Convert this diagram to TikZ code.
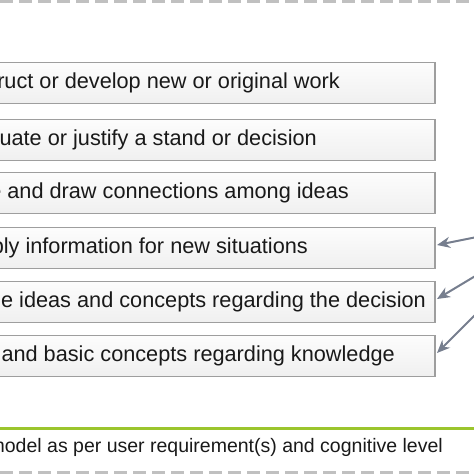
\documentclass[tikz,border=0pt]{standalone}
\usepackage{fontspec}
\setmainfont{Liberation Sans}
\usepackage{xcolor}
\usetikzlibrary{positioning,arrows.meta}
\definecolor{bxgrey}{RGB}{158,158,158}
\definecolor{dashgrey}{RGB}{192,192,192}
\definecolor{lvlgreen}{RGB}{155,197,45}
\definecolor{arrgrey}{RGB}{118,126,142}
\definecolor{txtblack}{RGB}{25,25,25}
\tikzset{
  lvl/.style={draw=bxgrey, line width=1.3pt, top color=black!1, bottom color=black!6,
              minimum width=460pt, minimum height=41pt, inner sep=0pt, outer sep=0pt},
  lvltxt/.style={font=\fontsize{21.7}{25}\selectfont, text=txtblack, inner sep=0pt, anchor=east},
  notetxt/.style={lvltxt, font=\fontsize{19.5}{23}\selectfont},
  sepline/.style={dashgrey, line width=3pt, dash pattern=on 13pt off 6pt},
  pick/.style={-{Stealth[length=13pt,width=11pt]}, line width=2pt, color=arrgrey},
}
\begin{document}
\begin{tikzpicture}[x=1pt, y=-1pt]
\useasboundingbox (0,0) rectangle (474,474);
\clip (0,0) rectangle (474,474);
% level boxes
\node[lvl] (b1) at (205,83) {};
\node[lvl, below=16pt of b1] (b2) {};
\node[lvl, below=12pt of b2] (b3) {};
\node[lvl, below=14pt of b3] (b4) {};
\node[lvl, below=13pt of b4] (b5) {};
\node[lvl, below=13pt of b5] (b6) {};
\node[lvltxt] (t1) at ([xshift=-95pt]b1.east) {ruct or develop new or original work};
\node[lvltxt] (t2) at ([xshift=-118pt]b2.east) {uate or justify a stand or decision};
\node[lvltxt] (t3) at ([xshift=-86pt]b3.east) {e and draw connections among ideas};
\node[lvltxt] (t4) at ([xshift=-127pt]b4.east) {ply information for new situations};
\node[lvltxt] (t5) at ([xshift=-9pt]b5.east) {e ideas and concepts regarding the decision};
\node[lvltxt] (t6) at ([xshift=-40pt]b6.east) {and basic concepts regarding knowledge};
% arrows coming in from the right
\coordinate (s1) at (482,236);
\coordinate (s2) at (482,272);
\coordinate (s3) at (482,308);
\draw[pick] (s1) -- ([shift={(2,-3)}]b4.east);
\draw[pick] (s2) -- ([shift={(2,-3)}]b5.east);
\draw[pick] (s3) -- ([shift={(2,-3)}]b6.east);
% frame lines and caption
\draw[sepline] (0,1.7) -- (480,1.7);
\draw[lvlgreen, line width=3pt] (-5,428) -- (480,428);
\node[notetxt] (note) at (443,447) {model as per user requirement(s) and cognitive level};
\draw[sepline] (0,472) -- (480,472);
\end{tikzpicture}
\end{document}
